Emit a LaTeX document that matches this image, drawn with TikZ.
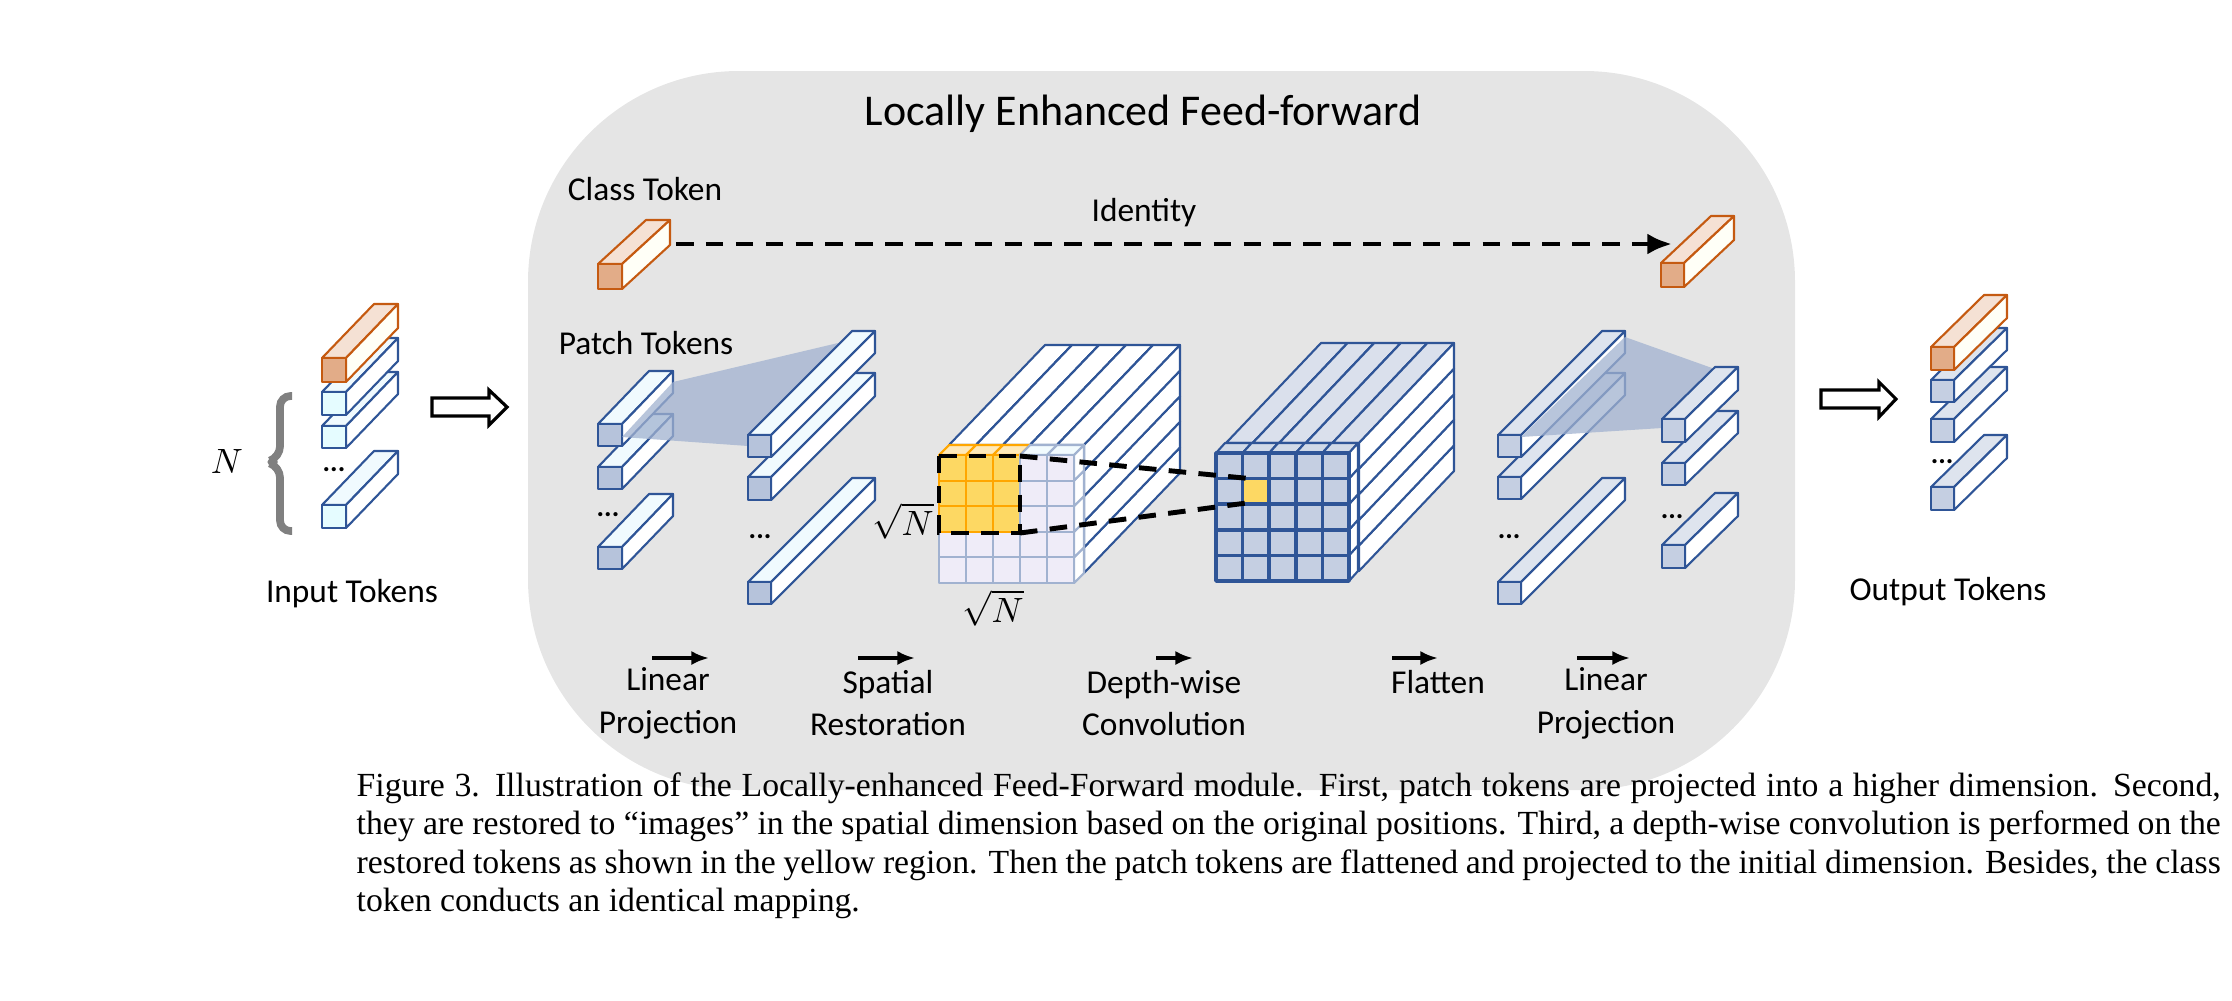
\documentclass[tikz,border=0pt]{standalone}
\usepackage{fontspec}
\setmainfont{Carlito}
\newfontfamily\capfont{Liberation Serif}
\usetikzlibrary{arrows.meta}
\definecolor{bd}{HTML}{2F5597}
\definecolor{od}{HTML}{C55A11}
\newcommand\tokbar[7]{%
 \filldraw[#7top] (#1,#2) -- ++(#5,-#6) -- ++(#3,0) -- ++(-#5,#6) -- cycle;
 \filldraw[#7side] (#1+#3,#2) -- ++(#5,-#6) -- ++(0,#4) -- ++(-#5,#6) -- cycle;
 \filldraw[#7front] (#1,#2) rectangle ++(#3,#4);}
\tikzset{
 base/.style={line width=0.6pt,line join=round},
 ofront/.style={base,draw=od,fill=od!50!white}, otop/.style={base,draw=od,fill=od!18!white}, oside/.style={base,draw=od,fill=yellow!3!white},
 bfront/.style={base,draw=bd,fill=blue!10!cyan!10!white}, btop/.style={base,draw=bd,fill=cyan!6!white}, bside/.style={base,draw=bd,fill=white},
 cfront/.style={base,draw=bd,fill=bd!35!white}, ctop/.style={base,draw=bd,fill=cyan!6!white}, cside/.style={base,draw=bd,fill=white},
 dfront/.style={base,draw=bd,fill=bd!28!white}, dtop/.style={base,draw=bd,fill=bd!16!white}, dside/.style={base,draw=bd,fill=white},
 wfront/.style={base,draw=bd,fill=white}, wtop/.style={base,draw=bd,fill=white}, wside/.style={base,draw=bd,fill=white},
 tfront/.style={base,draw=bd,fill=white}, ttop/.style={base,draw=bd,fill=bd!18!white}, tside/.style={base,draw=bd,fill=white},
 lfront/.style={base,draw=bd!45!white,fill=cyan!8!blue!6!white}, ltop/.style={base,draw=bd!45!white,fill=cyan!5!white}, lside/.style={base,draw=bd!45!white,fill=white},
 yfront/.style={base,draw=orange!70!yellow,fill=yellow!55!orange!60!white}, ytop/.style={base,draw=orange!70!yellow,fill=yellow!40!orange!25!white}, yside/.style={base,draw=orange!70!yellow,fill=yellow!20!white},
 gfront/.style={base,line width=1pt,draw=bd,fill=bd!28!white}, gtop/.style={base,draw=bd,fill=bd!22!white}, gside/.style={base,draw=bd,fill=white},
 qfront/.style={base,line width=1pt,draw=bd,fill=yellow!55!orange!60!white}, qtop/.style={gtop}, qside/.style={gside},
 shade/.style={fill=bd!45!white,fill opacity=0.75,draw=none},
 lbl/.style={font=\fontsize{9.5}{12.2}\selectfont,align=center,inner sep=0},
 stp/.style={-{Latex[length=5pt,width=4pt]},line width=1.3pt},
 dsh/.style={line width=1.4pt,dash pattern=on 5pt off 3.5pt},
 bigarr/.style={fill=white,draw=black,line width=0.9pt,line join=miter},
 dots/.style={font=\bfseries\fontsize{8}{8}\selectfont,inner sep=0},
}
\begin{document}
\begin{tikzpicture}[x=0.1mm,y=-0.1mm]
\useasboundingbox (0,0) rectangle (2232,1000);
% gray panel
\fill[gray!20,rounded corners=60] (528,71) rectangle (1795,790);
\node[font=\fontsize{12.5}{15}\selectfont,inner sep=0] (title) at (1143,114) {Locally Enhanced Feed-forward};
\node[lbl] (ct) at (645,189) {Class Token};
\node[lbl] (id) at (1144,213) {Identity};
\node[lbl] (pt) at (646,343) {Patch Tokens};
\node[lbl] (it) at (352,594) {Input Tokens};
\node[lbl] (ot) at (1948,592) {Output Tokens};
\node[font=\fontsize{10}{12}\selectfont,inner sep=0] (n) at (227,461) {$N$};
% input tokens
\tokbar{322}{505}{24}{23}{52}{54}{b}
\node[dots] (d1) at (334,470) {...};
\tokbar{322}{426}{24}{22}{52}{54}{b}
\tokbar{322}{392}{24}{23}{52}{54}{b}
\tokbar{322}{358}{24}{24}{52}{54}{o}
\draw[gray,line width=2.2pt,rounded corners=3] (292,396) -- (280,396) -- (280,457) -- (266,462) -- (280,467) -- (280,531) -- (292,531);
% input arrow
\draw[bigarr] (432,398) -- (489,398) -- (489,390) -- (507,407) -- (489,425) -- (489,416) -- (432,416) -- cycle;
% class tokens
\tokbar{598}{264}{24}{25}{48}{44}{o}
\tokbar{1661}{263}{23}{24}{50}{47}{o}
\coordinate (ia) at (676,244); \coordinate (ib) at (1672,244);
\draw[dsh,-{Latex[length=7pt,width=6pt]}] (ia) -- (ib);
% patch tokens left
\tokbar{598}{547}{24}{22}{51}{53}{c}
\node[dots] (d2) at (608,515) {...};
\tokbar{598}{467}{24}{22}{51}{53}{c}
\tokbar{598}{424}{24}{22}{51}{53}{c}
\fill[shade] (673,382) -- (622,437) -- (748,446) -- (838,343) -- cycle;
% projected
\tokbar{748}{582}{23}{22}{104}{104}{c}
\node[dots] (d3) at (760,537) {...};
\tokbar{748}{477}{23}{23}{104}{104}{c}
\tokbar{748}{435}{23}{22}{104}{104}{c}
% cube 1
\foreach \r in {4,3,2,1,0}{\foreach \c in {0,...,4}{
 \tokbar{949+27*\c}{445+25.6*\r}{27}{25.6}{96}{100}{w}}}
\foreach \r in {4,3,2,1,0}{\foreach \c in {0,...,4}{
 \pgfmathtruncatemacro\isy{and(\r<3,\c<3)}
 \ifnum\isy=1 \def\sch{y}\else\def\sch{l}\fi
 \tokbar{939+27*\c}{455+25.6*\r}{27}{25.6}{10}{10}{\sch}}}
\coordinate (ya) at (939,456); \coordinate (yb) at (1020,456);
\coordinate (yc) at (1020,533); \coordinate (yd) at (939,533);
\draw[dsh] (ya) -- (yb) -- (yc) -- (yd) -- cycle;
\node[font=\fontsize{10}{12}\selectfont,inner sep=0] (s1) at (903,521) {$\sqrt{N}$};
\node[font=\fontsize{10}{12}\selectfont,inner sep=0] (s2) at (993,608) {$\sqrt{N}$};
% cube 2
\foreach \r in {4,3,2,1,0}{\foreach \c in {0,...,4}{
 \tokbar{1226+26.6*\c}{443+25.6*\r}{26.6}{25.6}{95}{100}{t}}}
\foreach \r in {4,3,2,1,0}{\foreach \c in {0,...,4}{
 \pgfmathtruncatemacro\isq{and(\r==1,\c==1)}
 \ifnum\isq=1 \def\sch{q}\else\def\sch{g}\fi
 \tokbar{1216+26.6*\c}{453+25.6*\r}{26.6}{25.6}{9}{10}{\sch}}}
\coordinate (ta) at (1254,479); \coordinate (tb) at (1254,502);
\draw[dsh] (yb) -- (ta); \draw[dsh] (yc) -- (tb);
% flattened
\tokbar{1498}{582}{23}{22}{104}{104}{d}
\node[dots] (d4) at (1509,537) {...};
\tokbar{1498}{477}{23}{22}{104}{104}{d}
\tokbar{1498}{435}{23}{22}{104}{104}{d}
\fill[shade] (1625,337) -- (1521,437) -- (1662,428) -- (1712,368) -- cycle;
\tokbar{1662}{545}{23}{23}{53}{52}{d}
\node[dots] (d5) at (1672,517) {...};
\tokbar{1662}{463}{23}{22}{53}{52}{d}
\tokbar{1662}{419}{23}{23}{53}{52}{d}
% output arrow
\draw[bigarr] (1821,390) -- (1879,390) -- (1879,382) -- (1896,399) -- (1879,417) -- (1879,408) -- (1821,408) -- cycle;
% output tokens
\tokbar{1931}{487}{23}{23}{53}{52}{d}
\node[dots] (d6) at (1942,462) {...};
\tokbar{1931}{419}{23}{23}{53}{52}{d}
\tokbar{1931}{380}{23}{22}{53}{52}{d}
\tokbar{1931}{347}{23}{23}{53}{52}{o}
% step arrows and labels
\coordinate (a1) at (652,658); \coordinate (b1) at (709,658);
\coordinate (a2) at (858,658); \coordinate (b2) at (915,658);
\coordinate (a3) at (1156,658); \coordinate (b3) at (1193,658);
\coordinate (a4) at (1392,658); \coordinate (b4) at (1438,658);
\coordinate (a5) at (1577,658); \coordinate (b5) at (1630,658);
\foreach \i in {1,...,5}{\draw[stp] (a\i) -- (b\i);}
\node[lbl] (l1) at (668,703) {Linear\\Projection};
\node[lbl] (l2) at (888,703) {Spatial\\Restoration};
\node[lbl] (l3) at (1164,703) {Depth-wise\\Convolution};
\node[lbl] (l4) at (1438,682) {Flatten};
\node[lbl] (l5) at (1606,703) {Linear\\Projection};
% caption
\node[anchor=north west,inner sep=0,text width=186.4mm,align=justify,font=\capfont\fontsize{9.6}{10.9}\selectfont] (cap) at (356,772)
{Figure 3. Illustration of the Locally-enhanced Feed-Forward module. First, patch tokens are projected into a higher dimension. Second,\linebreak they are restored to “images” in the spatial dimension based on the original positions. Third, a depth-wise convolution is performed on the\linebreak restored tokens as shown in the yellow region. Then the patch tokens are flattened and projected to the initial dimension. Besides, the class\linebreak token conducts an identical mapping.};
\end{tikzpicture}
\end{document}
